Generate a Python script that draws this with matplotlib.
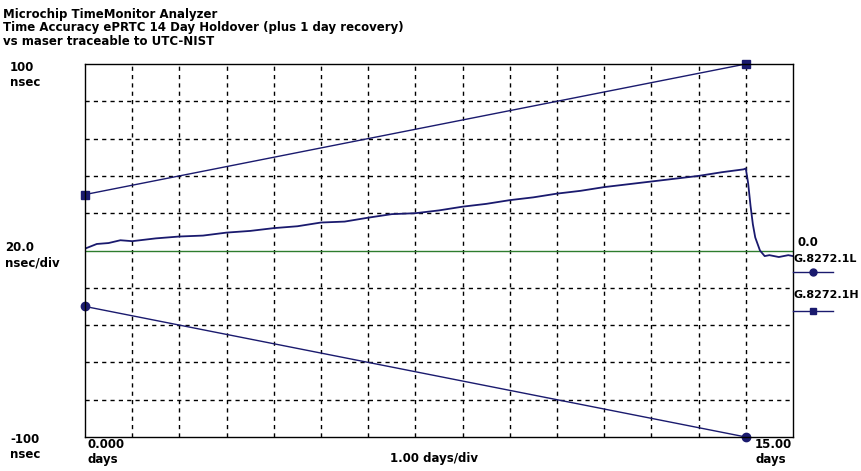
import matplotlib
matplotlib.use("Agg")
import matplotlib.pyplot as plt

days = [0.0, 0.25, 0.5, 0.75, 1.0, 1.5, 2.0, 2.5, 3.0, 3.5, 4.0, 4.5, 5.0, 5.5, 6.0, 6.5, 7.0, 7.5,
        8.0, 8.5, 9.0, 9.5, 10.0, 10.5, 11.0, 11.5, 12.0, 12.5, 13.0, 13.5, 13.8, 13.95, 14.0,
        14.05, 14.1, 14.15, 14.2, 14.3, 14.4, 14.5, 14.7, 14.9, 15.0]
te_ns = [1.0, 3.5, 4.0, 5.5, 5.0, 6.5, 7.5, 8.0, 9.6, 10.5, 12.0, 13.0, 15.0, 15.5, 17.6, 19.5, 20.0, 21.5,
         23.5, 25.0, 27.0, 28.5, 30.5, 32.0, 34.0, 35.5, 37.0, 38.5, 40.0, 42.0, 43.0, 43.5, 44.0,
         36.0, 24.0, 14.0, 7.0, 0.0, -3.0, -2.5, -3.5, -2.5, -3.0]

mask_days = [0, 14]
mask_hi = [30, 100]
mask_lo = [-30, -100]

navy = "#1a1a6e"
fig = plt.figure(figsize=(8.61, 4.71), dpi=100)
ax = fig.add_axes([85/861, 1-437/471, 708/861, 373/471])
ax.set_xlim(0, 15)
ax.set_ylim(-100, 100)
for x in range(1, 15):
    ax.axvline(x, color="black", lw=1, ls=(0, (3, 3)))
for y in range(-80, 100, 20):
    if y != 0:
        ax.axhline(y, color="black", lw=1, ls=(0, (3, 3)))
ax.axhline(0, color="#2e7d2e", lw=1)
ax.plot(mask_days, mask_hi, color=navy, lw=1, marker="s", ms=6, clip_on=False)
ax.plot(mask_days, mask_lo, color=navy, lw=1, marker="o", ms=6, clip_on=False)
ax.plot(days, te_ns, color=navy, lw=1.3)
ax.set_xticks([]); ax.set_yticks([])
for s in ax.spines.values():
    s.set_linewidth(1)

kw = dict(fontsize=8.5, fontweight="bold", family="DejaVu Sans")
fig.text(3/861, 1-8/471, "Microchip TimeMonitor Analyzer\nTime Accuracy ePRTC 14 Day Holdover (plus 1 day recovery)\nvs maser traceable to UTC-NIST",
         va="top", ha="left", linespacing=1.05, **kw)
fig.text(10/861, 1-75/471, "100\nnsec", va="center", **kw)
fig.text(5/861, 1-255/471, "20.0\nnsec/div", va="center", **kw)
fig.text(10/861, 1-447/471, "-100\nnsec", va="center", **kw)
fig.text(88/861, 1-452/471, "0.000\ndays", va="center", **kw)
fig.text(390/861, 1-452/471, "1.00 days/div", va="top", **kw)
fig.text(755/861, 1-452/471, "15.00\ndays", va="center", **kw)
fig.text(797/861, 1-243/471, "0.0", va="center", **kw)
fig.text(793/861, 1-259/471, "G.8272.1L", va="center", fontsize=8, fontweight="bold")
fig.text(793/861, 1-295/471, "G.8272.1H", va="center", fontsize=8, fontweight="bold")
fig.add_artist(plt.Line2D([793/861, 833/861], [1-272/471]*2, color=navy, lw=1))
fig.add_artist(plt.Line2D([813/861], [1-272/471], color=navy, marker="o", ms=5))
fig.add_artist(plt.Line2D([793/861, 833/861], [1-311/471]*2, color=navy, lw=1))
fig.add_artist(plt.Line2D([813/861], [1-311/471], color=navy, marker="s", ms=5))
fig.savefig("out.png", dpi=100)
